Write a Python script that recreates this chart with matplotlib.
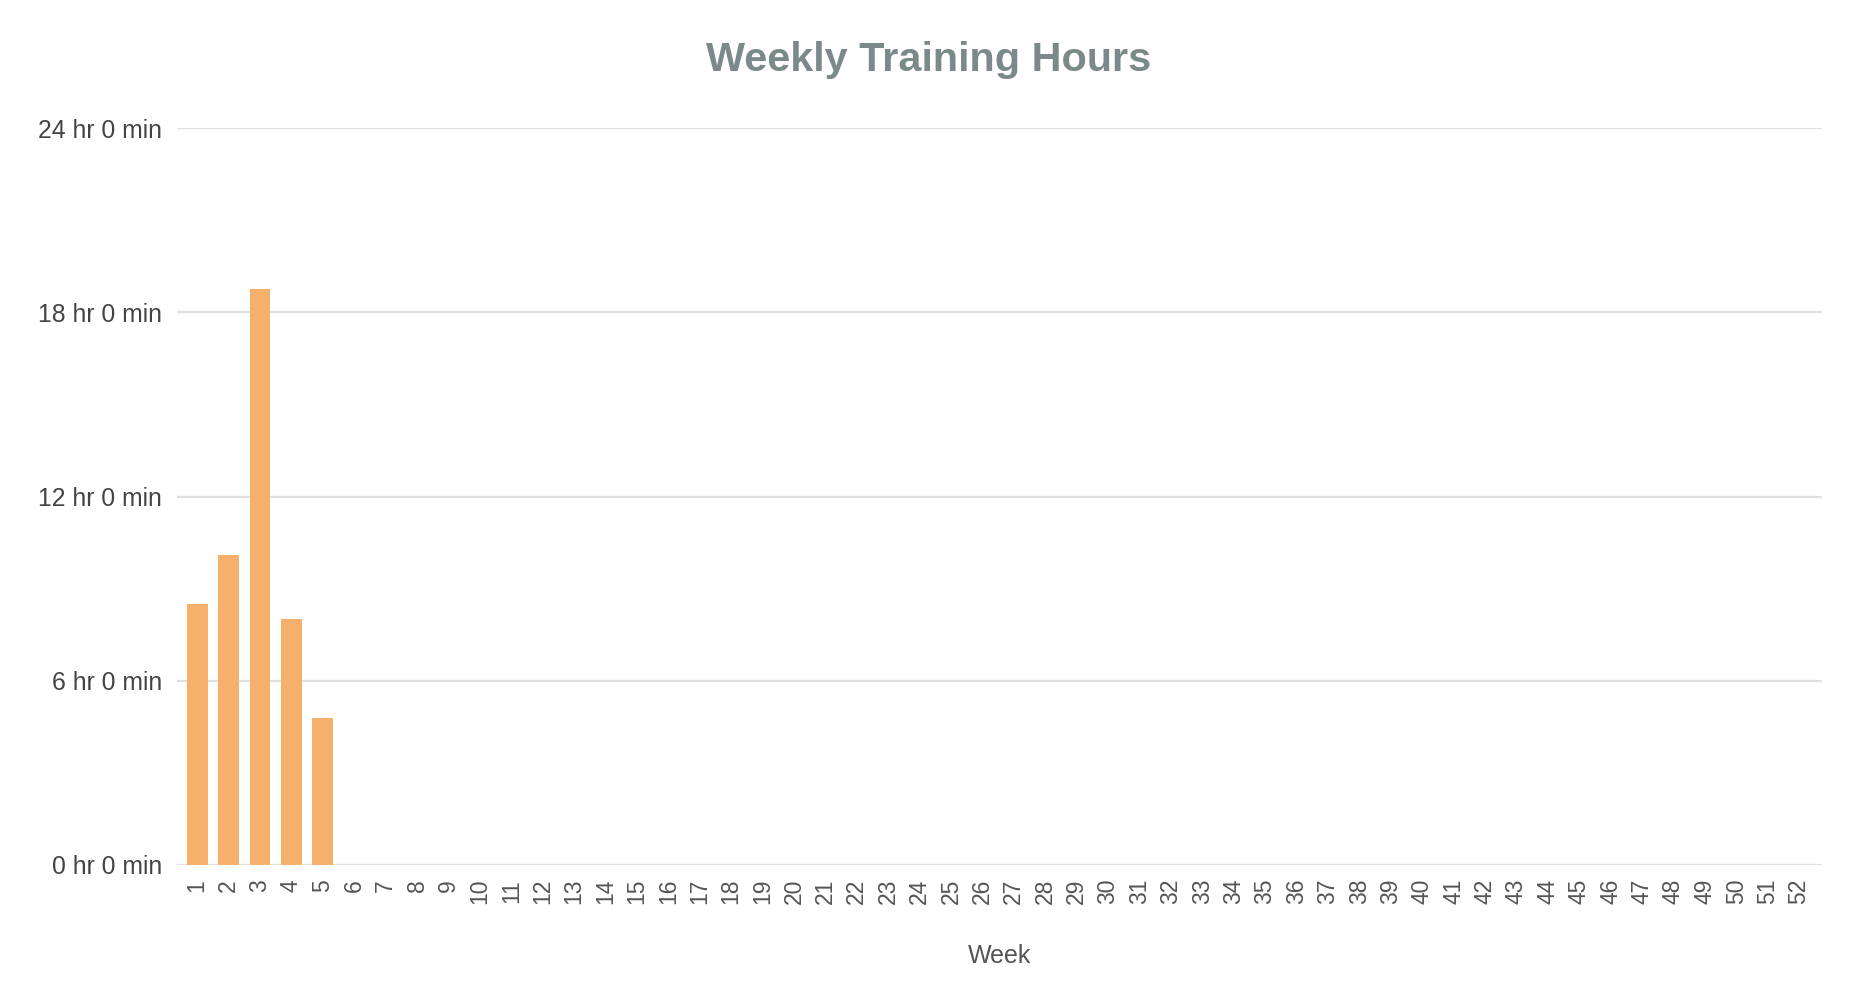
import numpy as np
import matplotlib
matplotlib.use("Agg")
import matplotlib.pyplot as plt

plt.rcParams['font.family'] = ['Liberation Sans', 'DejaVu Sans']

weeks = list(range(1, 53))
hours = [8.5, 10.1, 18.75, 8.0, 4.8] + [0] * 47  # hours per week
y_ticks = [0, 6, 12, 18, 24]
y_labels = ['0 hr 0 min', '6 hr 0 min', '12 hr 0 min', '18 hr 0 min', '24 hr 0 min']

fig = plt.figure(figsize=(18.58, 10), dpi=100)
ax = fig.add_axes([0.0953, 0.135, 0.8853, 0.737])

ax.bar(weeks, hours, width=0.66, color='#f5b06b', zorder=3)

ax.set_xlim(0.36, 52.73)
ax.set_ylim(0, 24)
ax.set_yticks(y_ticks)
ax.set_yticklabels(y_labels)
ax.set_xticks(weeks)
ax.set_xticklabels([str(w) for w in weeks], rotation=90)

ax.grid(axis='y', color='#e0e0e0', linewidth=1.6, zorder=0)
ax.set_axisbelow(True)
for s in ax.spines.values():
    s.set_visible(False)
ax.tick_params(axis='y', length=0, pad=11, labelsize=17.8, labelcolor='#444444')
ax.tick_params(axis='x', length=0, pad=10, labelsize=16.5, labelcolor='#555555')

ax.set_xlabel('Week', fontsize=18, color='#555555', va='center')
ax.xaxis.set_label_coords(0.5, -0.1235)

fig.text(0.5, 0.929, 'Weekly Training Hours', ha='center', va='baseline',
         fontsize=29.8, fontweight='bold', color='#7b898a')

fig.savefig('out.png', dpi=100, facecolor='white')
